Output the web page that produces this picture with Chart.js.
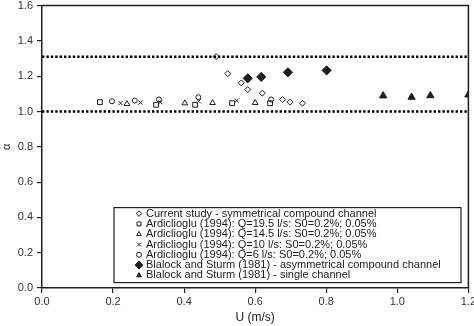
<!DOCTYPE html>
<html>
<head>
<meta charset="utf-8">
<script src="https://cdn.jsdelivr.net/npm/chart.js@4.4.1/dist/chart.umd.min.js"></script>
<style>
  html, body { margin: 0; padding: 0; background: #fff; }
  canvas { display: block; }
</style>
</head>
<body>
<canvas id="grafico" width="474" height="326"></canvas>
<script>
// [U, alpha] pairs for each data set
const currentStudy = [[0.490,1.311],[0.523,1.215],[0.561,1.162],[0.579,1.124],[0.620,1.104],[0.677,1.068],[0.698,1.053],[0.733,1.047]];
const ardQ195 = [[0.163,1.053],[0.321,1.038],[0.431,1.038],[0.535,1.047],[0.642,1.047]];
const ardQ145 = [[0.239,1.043],[0.402,1.047],[0.480,1.049],[0.600,1.049]];
const ardQ10 = [[0.221,1.047],[0.277,1.051],[0.333,1.053],[0.441,1.058],[0.548,1.062]];
const ardQ6 = [[0.197,1.058],[0.261,1.062],[0.329,1.068],[0.440,1.081],[0.645,1.068]];
const blalockAsym = [[0.579,1.188],[0.617,1.196],[0.692,1.222],[0.801,1.233]];
const blalockSingle = [[0.960,1.089],[1.040,1.081],[1.093,1.090],[1.200,1.094]];

// horizontal reference levels (dotted)
const refLevels = [1.31, 1.0];

const xTicks = [0, 0.2, 0.4, 0.6, 0.8, 1.0, 1.2];
const yTicks = [0, 0.2, 0.4, 0.6, 0.8, 1.0, 1.2, 1.4, 1.6];

const labels = [
    'Current study - symmetrical compound channel',
    'Ardiclioglu (1994): Q=19.5 l/s: S0=0.2%; 0.05%',
    'Ardiclioglu (1994): Q=14.5 l/s: S0=0.2%; 0.05%',
    'Ardiclioglu (1994): Q=10 l/s: S0=0.2%; 0.05%',
    'Ardiclioglu (1994): Q=6 l/s: S0=0.2%; 0.05%',
    'Blalock and Sturm (1981) - asymmetrical compound channel',
    'Blalock and Sturm (1981) - single channel'
];

const INK = '#1e1e1e';
const FAMILIA = '"Liberation Sans", Arial, sans-serif';

function toPoints(arr) {
    return arr.map(p => ({ x: p[0], y: p[1] }));
}

function serie(label, arr, style, radius, filled) {
    return {
        type: 'scatter',
        label: label,
        data: toPoints(arr),
        pointStyle: style,
        pointRadius: radius,
        pointBorderWidth: 1,
        pointBorderColor: INK,
        pointBackgroundColor: filled ? INK : 'rgba(0,0,0,0)',
        borderColor: INK,
        backgroundColor: filled ? INK : 'rgba(0,0,0,0)'
    };
}

let datasets = [
    serie(labels[0], currentStudy, 'rectRot', 3.0, false),
    serie(labels[1], ardQ195, 'rect', 3.4, false),
    serie(labels[2], ardQ145, 'triangle', 3.3, false),
    serie(labels[3], ardQ10, 'crossRot', 3.0, false),
    serie(labels[4], ardQ6, 'circle', 2.5, false),
    serie(labels[5], blalockAsym, 'rectRot', 4.6, true),
    serie(labels[6], blalockSingle, 'triangle', 4.2, true)
];

refLevels.forEach(lv => {
    datasets.push({
        type: 'line',
        label: '',
        data: [{ x: xTicks[0], y: lv }, { x: xTicks[xTicks.length - 1], y: lv }],
        borderColor: '#000',
        borderWidth: 2.6,
        borderDash: [2.4, 2.0],
        borderCapStyle: 'butt',
        pointRadius: 0,
        fill: false,
        isRef: true
    });
});

// top and right sides of the frame
const marco = {
    id: 'marco',
    afterDatasetsDraw(chart) {
        const a = chart.chartArea;
        const ctx = chart.ctx;
        ctx.save();
        ctx.strokeStyle = INK;
        ctx.lineWidth = 1.5;
        ctx.beginPath();
        ctx.moveTo(a.left, a.top);
        ctx.lineTo(a.right, a.top);
        ctx.lineTo(a.right, a.bottom);
        ctx.stroke();
        ctx.restore();
    }
};

// boxed legend inside the plot
const leyenda = {
    id: 'leyenda',
    afterDraw(chart) {
        const a = chart.chartArea;
        const ctx = chart.ctx;
        const bx = a.left + 72, by = a.top + 202, bw = 347, bh = 75;
        ctx.save();
        ctx.fillStyle = '#fff';
        ctx.fillRect(bx, by, bw, bh);
        ctx.strokeStyle = INK;
        ctx.lineWidth = 1.2;
        ctx.strokeRect(bx, by, bw, bh);
        ctx.font = '11px ' + FAMILIA;
        ctx.textBaseline = 'middle';
        ctx.fillStyle = '#222';
        let fila = 0;
        chart.data.datasets.forEach(ds => {
            if (ds.isRef) return;
            const y = by + 6 + fila * 10.3;
            ctx.save();
            ctx.strokeStyle = INK;
            ctx.fillStyle = ds.pointBackgroundColor;
            ctx.lineWidth = 1;
            const r = ds.pointStyle === 'rectRot' && ds.pointRadius > 4 ? 4 : Math.min(ds.pointRadius, 2.8);
            Chart.helpers.drawPoint(ctx, { pointStyle: ds.pointStyle, radius: r, rotation: 0, borderWidth: 1 }, bx + 25, y);
            ctx.restore();
            ctx.fillText(ds.label, bx + 32, y);
            fila++;
        });
        ctx.restore();
    }
};

const tickFont = { family: FAMILIA, size: 11 };

new Chart(document.getElementById('grafico').getContext('2d'), {
    data: { datasets: datasets },
    options: {
        responsive: false,
        animation: false,
        devicePixelRatio: 1,
        layout: { padding: { top: 5, right: 4, left: 0, bottom: 0 } },
        plugins: {
            legend: { display: false },
            tooltip: { enabled: false }
        },
        scales: {
            x: {
                type: 'linear',
                min: xTicks[0],
                max: xTicks[xTicks.length - 1],
                afterBuildTicks: s => { s.ticks = xTicks.map(v => ({ value: v })); },
                ticks: {
                    autoSkip: false,
                    maxRotation: 0,
                    padding: 2,
                    color: '#333',
                    font: tickFont,
                    callback: v => v.toFixed(1)
                },
                grid: { drawOnChartArea: false, drawTicks: true, tickLength: 5, color: INK, lineWidth: 1.2 },
                border: { color: INK, width: 1.5 },
                title: {
                    display: true,
                    text: 'U (m/s)',
                    color: '#222',
                    font: { family: FAMILIA, size: 12 },
                    padding: { top: 0, bottom: 1 }
                },
                afterFit: s => { s.height = 38; s.paddingLeft = 0; s.paddingRight = 0; }
            },
            y: {
                type: 'linear',
                min: yTicks[0],
                max: yTicks[yTicks.length - 1],
                afterBuildTicks: s => { s.ticks = yTicks.map(v => ({ value: v })); },
                ticks: {
                    padding: 4,
                    color: '#333',
                    font: tickFont,
                    callback: v => v.toFixed(1)
                },
                grid: { drawOnChartArea: false, drawTicks: true, tickLength: 5, color: INK, lineWidth: 1.2 },
                border: { color: INK, width: 1.5 },
                title: {
                    display: true,
                    text: 'α',
                    color: '#222',
                    font: { family: FAMILIA, size: 11 },
                    padding: { top: 0, bottom: 0 }
                },
                afterFit: s => { s.width = 42; s.paddingTop = 0; s.paddingBottom = 0; }
            }
        }
    },
    plugins: [marco, leyenda]
});
</script>
</body>
</html>
